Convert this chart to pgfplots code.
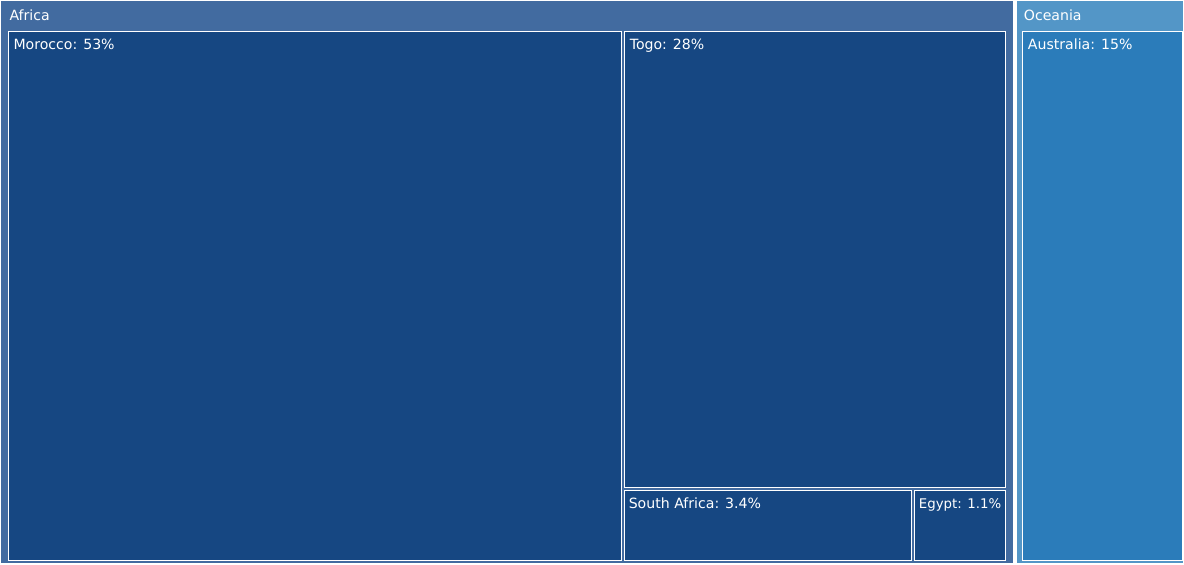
\documentclass[border=0pt]{standalone}
\usepackage{pgfplots}
\pgfplotsset{compat=1.18}
\usepackage{fontspec}
\setmainfont{DejaVu Sans}
\definecolor{africaC}{RGB}{66,107,160}
\definecolor{afrchild}{RGB}{22,71,130}
\definecolor{oceaniaC}{RGB}{83,150,199}
\definecolor{ausC}{RGB}{43,124,186}
\tikzset{lbl/.style={font=\fontsize{14.1}{16}\selectfont, text=white, anchor=base west, inner sep=0pt, outer sep=0pt}}
\begin{document}
\begin{tikzpicture}
\begin{axis}[
  scale only axis, width=1184pt, height=565pt,
  xmin=0, xmax=1184, ymin=0, ymax=565, y dir=reverse,
  hide axis, clip=false,
]
% parents
\addplot[fill=africaC, draw=white, line width=1pt] coordinates {(1,1) (1014,1) (1014,564) (1,564)} -- cycle;
\addplot[fill=oceaniaC, draw=white, line width=1pt] coordinates {(1017,1) (1183.5,1) (1183.5,564) (1017,564)} -- cycle;
% children
\addplot[fill=afrchild, draw=white, line width=1pt] coordinates {(9,32) (622,32) (622,561) (9,561)} -- cycle;
\addplot[fill=afrchild, draw=white, line width=1pt] coordinates {(625,32) (1006,32) (1006,488) (625,488)} -- cycle;
\addplot[fill=afrchild, draw=white, line width=1pt] coordinates {(625,491) (912,491) (912,561) (625,561)} -- cycle;
\addplot[fill=afrchild, draw=white, line width=1pt] coordinates {(915,491) (1006,491) (1006,561) (915,561)} -- cycle;
\addplot[fill=ausC, draw=white, line width=1pt] coordinates {(1023,32) (1182,32) (1182,561) (1023,561)} -- cycle;
% labels
\node[lbl] at (axis cs:10,21) {Africa};
\node[lbl] at (axis cs:1024,21) {Oceania};
\node[lbl] at (axis cs:14,49.5) {Morocco: 53\%};
\node[lbl] at (axis cs:630,49.5) {Togo: 28\%};
\node[lbl] at (axis cs:629,508.5) {South Africa: 3.4\%};
\node[lbl, font=\fontsize{13.3}{16}\selectfont] at (axis cs:919,508.5) {Egypt: 1.1\%};
\node[lbl] at (axis cs:1028,49.5) {Australia: 15\%};
\end{axis}
\end{tikzpicture}
\end{document}
